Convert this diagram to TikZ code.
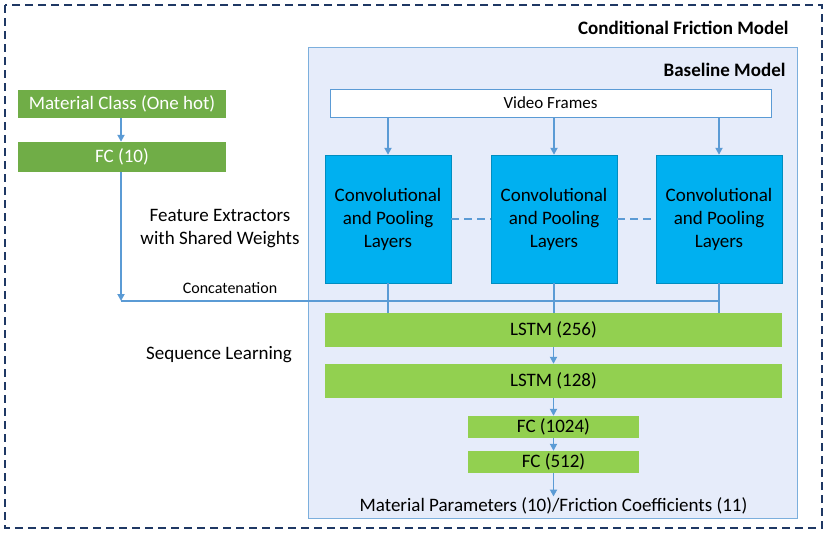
\documentclass[tikz,border=0pt]{standalone}
\usepackage{fontspec}
\setmainfont{Carlito}
\usetikzlibrary{arrows.meta}
\definecolor{navy}{HTML}{1F3864}
\definecolor{lblue}{HTML}{5B9BD5}
\definecolor{bgblue}{HTML}{E6ECFA}
\definecolor{cyanb}{HTML}{00B0F0}
\definecolor{lgreen}{HTML}{92D050}
\definecolor{dgreen}{HTML}{70AD47}
\begin{document}
\begin{tikzpicture}[x=1pt,y=-1pt,font=\fontsize{19}{23}\selectfont,
  cnn/.style={fill=cyanb,draw=cyanb!80!black,line width=0.4pt,minimum width=126pt,minimum height=128pt,align=center,inner sep=0pt},
  grn/.style={fill=lgreen,inner sep=0pt},
  dgr/.style={fill=dgreen,inner sep=0pt,text=white},
  con/.style={draw=lblue,line width=1.8pt},
  arr/.style={con,-{Triangle[length=7pt,width=7pt]}}]
\useasboundingbox (0,0) rectangle (828,533);
\draw[navy,line width=2.5pt,dash pattern=on 8pt off 5pt] (5,5) rectangle (822,528);
\node[anchor=east,font=\fontsize{19}{23}\selectfont\bfseries] (cfm) at (792,28) {Conditional Friction Model};
\draw[fill=bgblue,draw=lblue!80,line width=0.6pt] (308,47) rectangle (797,518);
\node[anchor=east,font=\fontsize{19}{23}\selectfont\bfseries] (bm) at (789,70) {Baseline Model};
\node[draw=lblue,fill=white,minimum width=441pt,minimum height=28pt,inner sep=0pt,font=\fontsize{17}{20}\selectfont] (vf) at (550.5,103) {Video Frames};
\node[cnn] (c1) at (388,219) {Convolutional\\and Pooling\\Layers};
\node[cnn] (c2) at (554,219) {Convolutional\\and Pooling\\Layers};
\node[cnn] (c3) at (719,219) {Convolutional\\and Pooling\\Layers};
\draw[lblue,line width=1.8pt,dash pattern=on 8pt off 5pt] (c1.east) -- (c2.west);
\draw[lblue,line width=1.8pt,dash pattern=on 8pt off 5pt] (c2.east) -- (c3.west);
\draw[arr] (vf.south -| c1) -- (c1.north);
\draw[arr] (vf.south -| c2) -- (c2.north);
\draw[arr] (vf.south -| c3) -- (c3.north);
\node[grn,minimum width=457pt,minimum height=34pt] (l1) at (553.5,330) {LSTM (256)};
\node[grn,minimum width=457pt,minimum height=34pt] (l2) at (553.5,381) {LSTM (128)};
\node[grn,minimum width=171pt,minimum height=22pt] (f1) at (553.5,427) {FC (1024)};
\node[grn,minimum width=171pt,minimum height=22pt] (f2) at (553.5,462) {FC (512)};
\node[inner sep=1pt] (out) at (553.5,506) {Material Parameters (10)/Friction Coefficients (11)};
\draw[arr] (l1) -- (l2);
\draw[arr] (l2) -- (f1);
\draw[arr] (f1) -- (f2);
\draw[arr] (f2) -- (out);
\node[dgr,minimum width=208pt,minimum height=28pt] (mc) at (122,104) {Material Class (One hot)};
\node[dgr,minimum width=208pt,minimum height=30pt] (fc) at (122,157) {FC (10)};
\draw[arr] (mc.south -| 121,0) -- (fc.north -| 121,0);
\coordinate (cc) at (121,301);
\draw[arr] (fc.south -| cc) -- (cc);
\draw[con] (cc) -- (cc -| c3);
\draw[con] (c1.south) -- (l1.north -| c1);
\draw[con] (c2.south) -- (l1.north -| c2);
\draw[con] (c3.south) -- (l1.north -| c3);
\node[font=\fontsize{16}{19}\selectfont] (cat) at (230,288) {Concatenation};
\node[align=center] (fe) at (220,229) {Feature Extractors\\with Shared Weights};
\node (sl) at (219,355) {Sequence Learning};
\end{tikzpicture}
\end{document}
